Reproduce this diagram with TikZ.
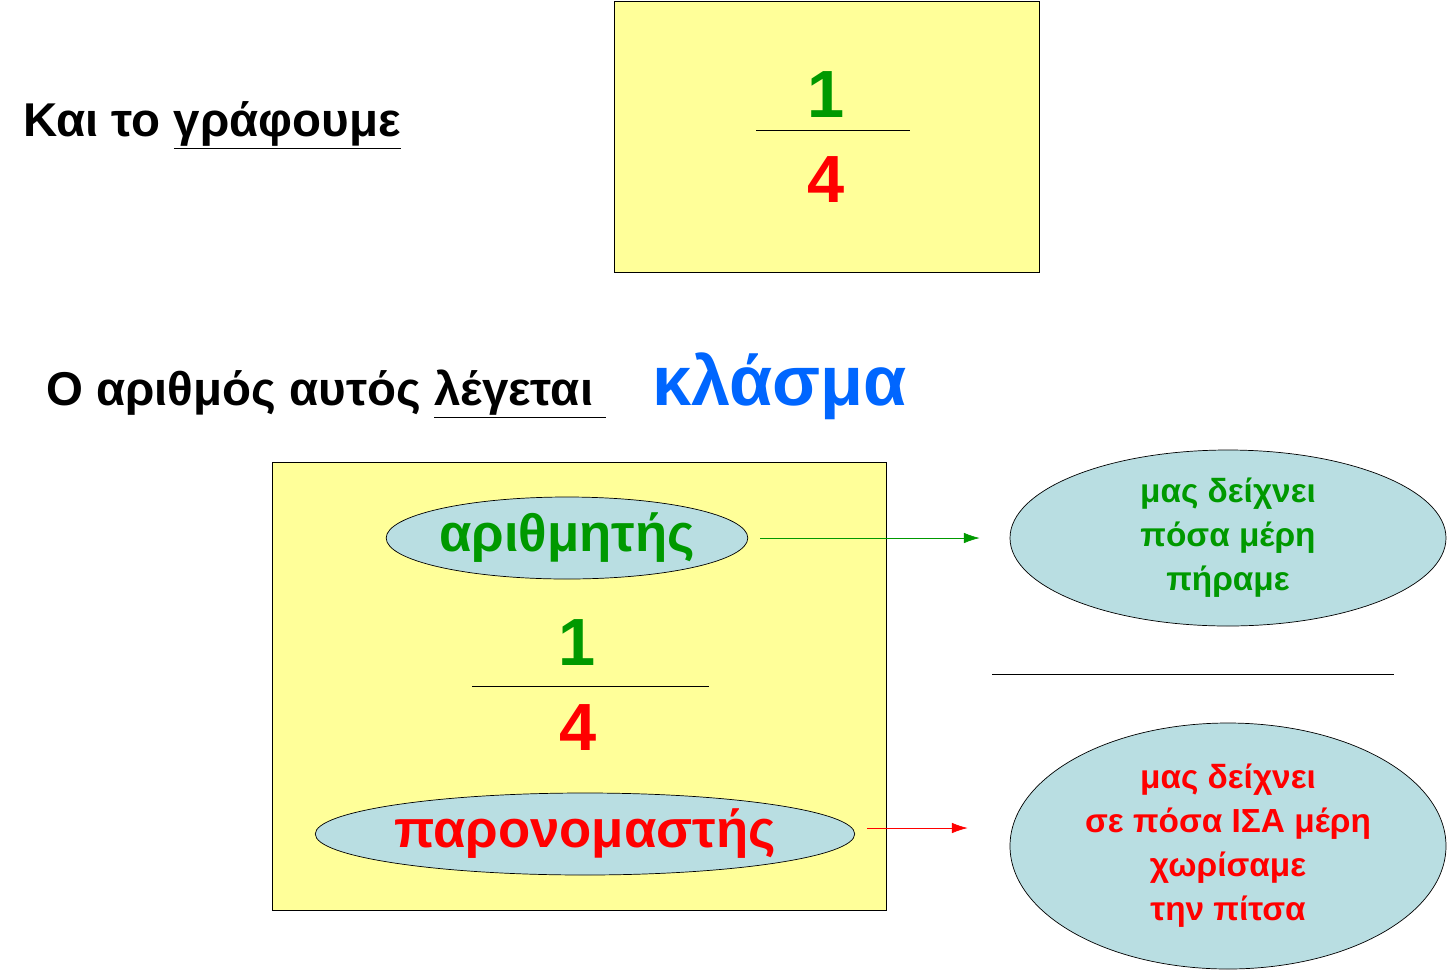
\documentclass[tikz,border=0pt]{standalone}
\usepackage{fontspec}
\setmainfont{Liberation Sans}
\usetikzlibrary{shapes.geometric, arrows.meta}
\definecolor{paleyellow}{RGB}{255,255,153}
\definecolor{paleteal}{RGB}{185,222,226}
\definecolor{numgreen}{RGB}{0,153,0}
\definecolor{numred}{RGB}{255,0,0}
\definecolor{wordblue}{RGB}{0,102,255}
\tikzset{
  frame/.style={draw=black, fill=paleyellow},
  digit/.style={font=\fontsize{38}{38}\selectfont\bfseries},
  term/.style={ellipse, draw=black, fill=paleteal, inner sep=0pt, font=\fontsize{30}{30}\selectfont\bfseries},
  note/.style={ellipse, draw=black, fill=paleteal, inner sep=0pt, align=center, font=\fontsize{19}{25}\selectfont\bfseries},
  heading/.style={anchor=base west, font=\fontsize{27}{27}\selectfont\bfseries},
  link/.style={-{Latex[length=9pt,width=6pt]}}
}
\begin{document}
\begin{tikzpicture}[x=0.02cm, y=-0.02cm]
\useasboundingbox (0,0) rectangle (1448,971);
% top part
\node (say) [heading] at (17,136) {Και το \underline{γράφουμε}};
\draw [frame] (614,1) rectangle (1039,272);
\node (topnum) [digit, text=numgreen] at (826,95) {1};
\node (topden) [digit, text=numred] at (826,180) {4};
\draw (756,130) -- (910,130);

% naming line
\node (called) [heading] at (40,405) {Ο αριθμός αυτός \underline{λέγεται\ }};
\node (word) [anchor=base west, text=wordblue, font=\fontsize{40}{40}\selectfont\bfseries] at (646,405) {κλάσμα};

% lower box
\draw [frame] (272,462) rectangle (886,910);
\node (numer) [term, text=numgreen, minimum width=330*0.02cm, minimum height=82*0.02cm] at (567,538) {αριθμητής};
\node (bnum) [digit, text=numgreen] at (577,643) {1};
\draw (472,686) -- (709,686);
\node (bden) [digit, text=numred] at (578,728) {4};
\node (denom) [term, text=numred, minimum width=436*0.02cm, minimum height=82*0.02cm] at (585,834) {παρονομαστής};

% explanations
\node (numnote) [note, text=numgreen, minimum width=436*0.02cm, minimum height=176*0.02cm] at (1228,538) {μας δείχνει\\πόσα μέρη\\πήραμε};
\draw (992,674) -- (1394,674);
\node (dennote) [note, text=numred, minimum width=436*0.02cm, minimum height=246*0.02cm] at (1228,846) {μας δείχνει\\σε πόσα ΙΣΑ μέρη\\χωρίσαμε\\την πίτσα};

\draw [link, numgreen] ([xshift=12*0.02cm]numer.east) -- ([xshift=-30*0.02cm]numnote.west);
\draw [link, numred] ([xshift=12*0.02cm, yshift=6*0.02cm]denom.east) -- ([xshift=-42*0.02cm, yshift=18*0.02cm]dennote.west);
\end{tikzpicture}
\end{document}
